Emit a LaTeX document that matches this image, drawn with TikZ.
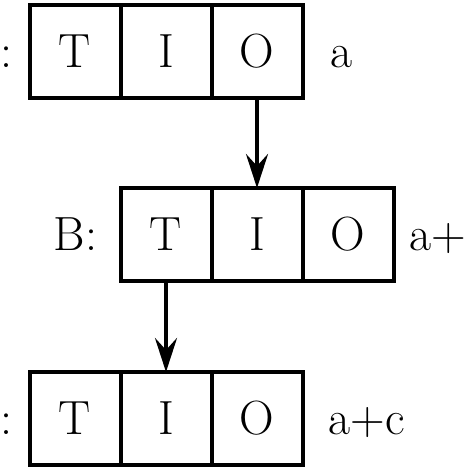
\documentclass[tikz,border=0pt]{standalone}
\usepackage{fontspec}
\usetikzlibrary{positioning}
\usetikzlibrary{arrows.meta}

\begin{document}
\begin{tikzpicture}[x=1pt, y=1pt,
                cellnode/.style={rectangle, draw=black, line width=4pt, minimum width=91pt, minimum height=93pt, inner sep=0pt, outer sep=0pt, font=\fontsize{48}{58}\selectfont},
                labelnode/.style={inner sep=0pt, font=\fontsize{48}{58}\selectfont},
                flowarrow/.style={-{Stealth[length=34pt, width=22pt, inset=12pt]}, line width=4pt},
                ]
                \useasboundingbox (0,0) rectangle (474,474);

                \node[cellnode] (AT) at (75,422.5) {T};
                \node[cellnode, right=0pt of AT] (AI) {I};
                \node[cellnode, right=0pt of AI] (AO) {O};
                \node[labelnode, left=17pt of AT.base west, anchor=base east] (AL) {:};
                \node[labelnode, right=28pt of AO.base east, anchor=base west] (AR) {a};

                \node[cellnode, below=90pt of AO] (BI) {I};
                \node[cellnode, left=0pt of BI] (BT) {T};
                \node[cellnode, right=0pt of BI] (BO) {O};
                \node[labelnode, left=23pt of BT.base west, anchor=base east] (BL) {B:};
                \node[labelnode, right=16pt of BO.base east, anchor=base west] (BR) {a+};

                \node[cellnode, below=91pt of BT] (CI) {I};
                \node[cellnode, left=0pt of CI] (CT) {T};
                \node[cellnode, right=0pt of CI] (CO) {O};
                \node[labelnode, left=17pt of CT.base west, anchor=base east] (CL) {:};
                \node[labelnode, right=26pt of CO.base east, anchor=base west] (CR) {a+c};

                \draw[flowarrow] (AO.south) -- (BI.north);
                \draw[flowarrow] (BT.south) -- (CI.north);
            \end{tikzpicture}
\end{document}
